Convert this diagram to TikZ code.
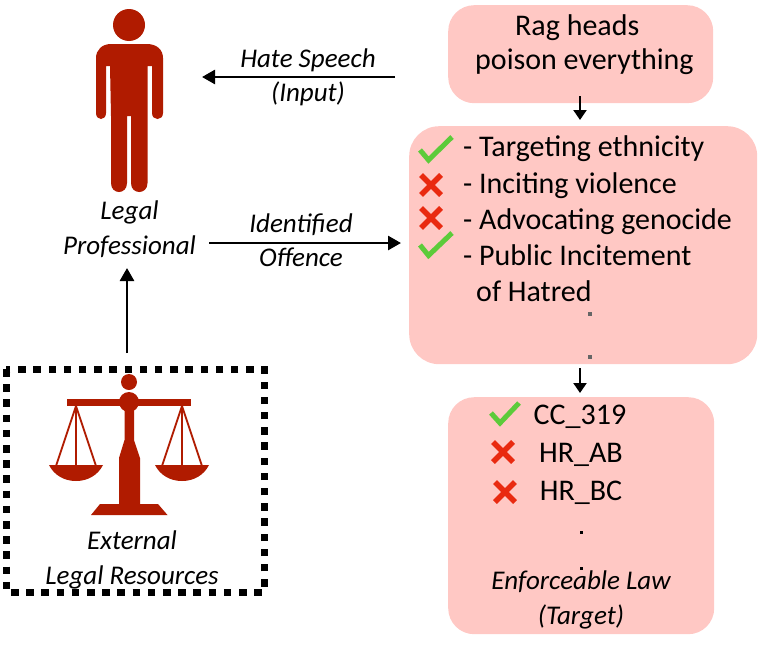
\documentclass[tikz,border=0pt]{standalone}
\usepackage{fontspec}
\setmainfont{Carlito}
\usetikzlibrary{arrows.meta}
\definecolor{boxpink}{HTML}{FFC8C4}
\definecolor{iconred}{HTML}{B01B00}
\definecolor{okgreen}{HTML}{5CCB3A}
\definecolor{nored}{HTML}{E92A10}
\definecolor{dotgray}{HTML}{666666}
\tikzset{
  pinkbox/.style={fill=boxpink,draw=none,rounded corners=26pt,inner sep=0pt,anchor=north west},
  arrowline/.style={line width=2.7pt,-{Triangle[length=13pt,width=14pt]}},
  smallarrow/.style={line width=2.2pt,-{Triangle[length=10pt,width=13pt]}},
  ital/.style={font=\fontsize{27}{34.5}\selectfont\itshape,align=center,inner sep=0pt},
  plain/.style={font=\fontsize{30}{36}\selectfont,inner sep=0pt},
  listitem/.style={plain,anchor=base west,align=left},
  tick/.style={draw=okgreen,line width=5pt,line join=miter},
  cross/.style={draw=nored,line width=5.5pt},
  iconfill/.style={fill=iconred,draw=none},
  iconline/.style={draw=iconred},
}
\begin{document}
\begin{tikzpicture}[x=1pt,y=-1pt]
\useasboundingbox (0,0) rectangle (762,648);
% boxes
\node[pinkbox,minimum width=265pt,minimum height=98pt] (inputbox) at (448,5) {};
\node[pinkbox,minimum width=348pt,minimum height=238pt,rounded corners=30pt] (offencebox) at (409,126) {};
\node[pinkbox,minimum width=266pt,minimum height=237pt] (lawbox) at (448,397) {};
% input text
\node[plain,align=left,anchor=west,font=\fontsize{30}{34}\selectfont] (inputtext) at (475,45) {\hspace*{40pt}Rag heads\\poison everything};
% offence list
\node[listitem] (o1) at (463,156) {- Targeting ethnicity};
\node[listitem] (o2) at (463,193) {- Inciting violence};
\node[listitem] (o3) at (463,229) {- Advocating genocide};
\node[listitem] (o4) at (463,265) {- Public Incitement};
\node[listitem] (o5) at (476,301) {of Hatred};
% law list
\node[plain,anchor=base] (l1) at (580,424) {CC\_319};
\node[plain,anchor=base] (l2) at (581,462) {HR\_AB};
\node[plain,anchor=base] (l3) at (581,500) {HR\_BC};
\node[ital] (lawlabel) at (581,600) {Enforceable Law\\(Target)};
% dots
\fill[dotgray] (588,312) rectangle (592,316);
\fill[dotgray] (588,355) rectangle (592,359);
\fill[black] (579.5,530.5) rectangle (582.5,533.5);
\fill[black] (579.5,566.5) rectangle (582.5,569.5);
% ticks and crosses
\draw[tick] (420,150) -- (428.5,160) -- (452,137);
\draw[tick] (420,245) -- (428.5,255.5) -- (452,233);
\draw[tick] (491,413) -- (500,423) -- (519,403);
\draw[cross] (421,175) -- (441,195) (441,175) -- (421,195);
\draw[cross] (421,208) -- (441,228) (441,208) -- (421,228);
\draw[cross] (493,442) -- (513,462) (513,442) -- (493,462);
\draw[cross] (495,482) -- (515,502) (515,482) -- (495,502);
% person
\fill[iconfill] (129,25) circle (16);
\fill[iconfill] (111,44) -- (147,44)
  .. controls (157,44) and (163,50) .. (163,58)
  -- (163,113) .. controls (163,121) and (152,121) .. (152,113)
  -- (152,66) -- (147.5,66) -- (147.5,183)
  .. controls (147.5,195) and (131,195) .. (131,183)
  -- (131,116) -- (127,116) -- (127,183)
  .. controls (127,195) and (111,195) .. (111,183)
  -- (111,116) -- (110,66) -- (106,66) -- (106,113)
  .. controls (106,121) and (96,121) .. (96,113)
  -- (96,58) .. controls (96,50) and (102,44) .. (111,44) -- cycle;
\node[ital] (professional) at (129.5,229) {Legal\\Professional};
% scales
\fill[iconfill] (129,382) circle (8);
\fill[iconfill] (67,399) rectangle (191,406);
\fill[iconfill] (129,402) circle (10);
\fill[iconfill] (124.5,402) -- (134,402) -- (134,440) -- (140,458) -- (140,505) -- (119,505) -- (119,458) -- (124.5,440) -- cycle;
\fill[iconfill] (100,504) -- (158,504) -- (167.5,515) -- (91,515) -- cycle;
\draw[iconline,line width=1.8pt] (56,466) -- (76,406) -- (96,466) (76,406) -- (76,466);
\draw[iconline,line width=1.8pt] (162,466) -- (182,406) -- (202,466) (182,406) -- (182,466);
\fill[iconfill] (49,465) -- (103,465) .. controls (98,475) and (88,481) .. (76,481) .. controls (64,481) and (54,475) .. (49,465) -- cycle;
\fill[iconfill] (155,465) -- (209,465) .. controls (204,475) and (194,481) .. (182,481) .. controls (170,481) and (160,475) .. (155,465) -- cycle;
\node[ital] (resources) at (132,560) {External\\Legal Resources};
% dotted frame
\draw[line width=7pt,dash pattern=on 7.5pt off 7.7pt] (6,369) rectangle (264,592);
\coordinate (framecentre) at (127,353);
% connectors
\coordinate (hatefrom) at (395,77);
\coordinate (hateto) at (202,77);
\coordinate (offfrom) at (209,243);
\coordinate (offto) at (401,243);
\coordinate (proftarget) at (127,268);
\coordinate (inbottom) at (580,96);
\coordinate (offtop) at (580,120);
\coordinate (offbottom) at (580,368);
\coordinate (lawtop) at (580,393);
\draw[arrowline] (hatefrom) -- (hateto);
\draw[arrowline] (offfrom) -- (offto);
\draw[arrowline] (framecentre) -- (proftarget);
\draw[smallarrow] (inbottom) -- (offtop);
\draw[smallarrow] (offbottom) -- (lawtop);
\node[ital] (hate) at (308,77.5) {Hate Speech\\(Input)};
\node[ital] (ident) at (301,240) {Identified\\Offence};
\end{tikzpicture}
\end{document}
